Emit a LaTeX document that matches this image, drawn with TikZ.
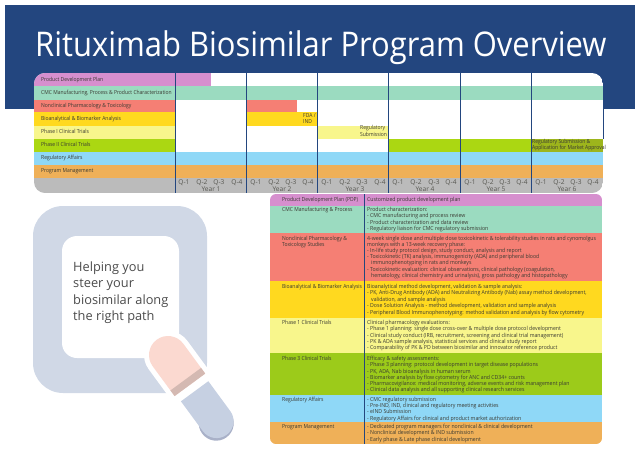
\documentclass[tikz,border=0pt]{standalone}
\usepackage{fontspec}
\setmainfont{Open Sans}
\newfontfamily\cellfont[FakeStretch=0.92]{Open Sans}
\newfontfamily\labelfont[FakeStretch=0.89]{Open Sans}
\newfontfamily\titlefont[FakeStretch=0.91]{Open Sans}
\definecolor{navy}{HTML}{23467F}
\definecolor{cpurple}{HTML}{D68FCE}
\definecolor{cgreen}{HTML}{9BDBC0}
\definecolor{cred}{HTML}{F57F74}
\definecolor{cyellow}{HTML}{FFD91F}
\definecolor{clight}{HTML}{F8F68C}
\definecolor{clime}{HTML}{ABD712}
\definecolor{cdlime}{HTML}{9DB51C}
\definecolor{clime2}{HTML}{9CCB1A}
\definecolor{cblue}{HTML}{8FD8F7}
\definecolor{corange}{HTML}{EFB058}
\definecolor{cgray}{HTML}{BBBBBB}
\definecolor{qblue}{HTML}{D0D8E6}
\definecolor{hblue}{HTML}{C6D0E2}
\definecolor{hshadow}{HTML}{A9B1C8}
\definecolor{pinkc}{HTML}{FBD9D0}
\definecolor{pinkd}{HTML}{D4B9B2}
\definecolor{ink}{HTML}{3A3A32}
\tikzset{
  tline/.style={anchor=base west,inner sep=0pt,text=ink,font=\cellfont\fontsize{5.6}{6}\selectfont},
  lline/.style={anchor=base west,inner sep=0pt,text=ink,font=\labelfont\fontsize{5.6}{6}\selectfont},
  qlabel/.style={anchor=base,inner sep=0pt,text=ink!85,font=\fontsize{6.6}{7}\selectfont},
  helptext/.style={anchor=base west,inner sep=0pt,text=black!70,font=\fontsize{12.8}{16}\selectfont},
  vrule/.style={draw=navy,line width=0.7pt},
}
\newcounter{tl}
\newcommand{\tl}[3]{\stepcounter{tl}\node[tline] (t\arabic{tl}) at (#1,#2+1.9) {#3};}
\newcommand{\lb}[3]{\stepcounter{tl}\node[lline] (t\arabic{tl}) at (#1,#2+1.9) {#3};}
\newcommand{\qyear}[6]{%
  \stepcounter{tl}\node[qlabel] (q\arabic{tl}a) at (#1,184.5) {Q-1};
  \node[qlabel] (q\arabic{tl}b) at (#2,184.5) {Q-2};
  \node[qlabel] (q\arabic{tl}c) at (#3,184.5) {Q-3};
  \node[qlabel] (q\arabic{tl}d) at (#4,184.5) {Q-4};
  \node[qlabel] (q\arabic{tl}e) at (#5,191) {#6};}
\begin{document}
\begin{tikzpicture}[x=1pt,y=-1pt]
\useasboundingbox (0,0) rectangle (638,456);
% banner
\fill[navy] (4.5,4.5) rectangle (635,109);
\node[anchor=base west,inner sep=0pt,text=white,font=\titlefont\fontsize{34}{40}\selectfont] (title) at (35,56) {Rituximab Biosimilar Program Overview};
% gantt panel
\begin{scope}
\clip[rounded corners=11pt] (34,73) rectangle (603,193);
\fill[white] (34,73) rectangle (603,193);
\fill[cpurple] (34,73) rectangle (211,86.3);
\fill[cgreen] (34,86.3) rectangle (603,99.5);
\fill[cred] (34,99.5) rectangle (175.5,112);
\fill[cred] (246.5,99.5) rectangle (297,112);
\fill[cyellow] (34,112) rectangle (175.5,125.5);
\fill[cyellow] (246.5,112) rectangle (317.5,125.5);
\fill[clight] (34,125.5) rectangle (175.5,138.5);
\fill[clight] (317.5,125.5) rectangle (388,138.5);
\fill[clime] (34,138.5) rectangle (175.5,151.5);
\fill[clime] (388,138.5) rectangle (531.5,151.5);
\fill[cdlime] (531.5,138.5) rectangle (603,151.5);
\fill[cblue] (34,151.5) rectangle (603,165);
\fill[corange] (34,165) rectangle (603,178);
\fill[cgray] (34,178) rectangle (603,193);
\end{scope}
\foreach \x in {175.5,246.5,317.5,388,460,531.5} \draw[vrule] (\x,73) -- (\x,193);
\draw[vrule] (603,109) -- (603,138.5);
\lb{41}{80}{Product Development Plan}
\lb{41}{93}{CMC Manufacturing, Process \& Product Characterization}
\lb{41}{106}{Nonclinical Pharmacology \& Toxicology}
\lb{41}{119}{Bioanalytical \& Biomarker Analysis}
\lb{41}{132}{Phase I Clinical Trials}
\lb{41}{145}{Phase II Clinical Trials}
\lb{41}{158}{Regulatory Affairs}
\lb{41}{171}{Program Management}
\lb{303}{116}{FDA /}
\lb{303}{122}{IND}
\lb{360}{128}{Regulatory}
\lb{360}{135}{Submission}
\lb{532}{142}{Regulatory Submission \&}
\lb{532}{148}{Application for Market Approval}
\qyear{184}{202}{219}{237}{211}{Year 1}
\qyear{256}{274}{291}{308}{282}{Year 2}
\qyear{327}{345}{362}{380}{355}{Year 3}
\qyear{398}{416}{434}{451}{425}{Year 4}
\qyear{470}{488}{505}{522}{496}{Year 5}
\qyear{541}{559}{576}{593}{567}{Year 6}
% Q shape
\fill[qblue,rounded corners=30pt] (33,206) rectangle (207,393);
\fill[white,rounded corners=15pt] (62,236) rectangle (179,358);
\begin{scope}[shift={(168,355)},rotate=-53.7]
\fill[white] (0,24) arc[start angle=90,end angle=270,radius=24] -- (50,-24) -- (50,24) -- cycle;
\fill[hshadow] (83.5,1.5) circle[radius=17.5];
\fill[hblue] (45,17) -- (82,17) arc[start angle=90,end angle=-90,radius=17] -- (45,-17) -- cycle;
\fill[pinkc] (0,19) arc[start angle=90,end angle=270,radius=19] -- (37,-19) -- (37,19) -- cycle;
\fill[pinkd] (30,-19) rectangle (37,19);
\end{scope}
\node[helptext] (h1) at (73,271) {Helping you};
\node[helptext] (h2) at (73,287.3) {steer your};
\node[helptext] (h3) at (73,304) {biosimilar along};
\node[helptext] (h4) at (73,320) {the right path};
% lower table
\begin{scope}
\clip[rounded corners=6pt] (270,194) rectangle (602,444);
\fill[cpurple] (270,194) rectangle (602,205.7);
\fill[cgreen] (270,205.7) rectangle (602,233);
\fill[cred] (270,233) rectangle (602,281);
\fill[cyellow] (270,281) rectangle (602,317.5);
\fill[clight] (270,317.5) rectangle (602,353);
\fill[clime2] (270,353) rectangle (602,395);
\fill[cblue] (270,395) rectangle (602,422);
\fill[corange] (270,422) rectangle (602,444);
\end{scope}
\draw[vrule] (364.5,194) -- (364.5,444);
\lb{282}{200}{Product Development Plan (PDP)}
\tl{367}{200}{Customized product development plan}
\lb{282}{209.5}{CMC Manufacturing \& Process}
\tl{367}{209.5}{Product characterization:}
\tl{367}{216}{- CMC manufacturing and process review}
\tl{367}{222.7}{- Product characterization and data review}
\tl{367}{229}{- Regulatory liaison for CMC regulatory submission}
\lb{282}{238.3}{Nonclinical Pharmacology \&}
\lb{282}{244.3}{Toxicology Studies}
\tl{367}{238.3}{4-week single dose and multiple dose toxicokinetic \& tolerability studies in rats and cynomolgus}
\tl{367}{244.3}{monkeys with a 13-week recovery phase:}
\tl{367}{251}{- In-life study protocol design, study conduct, analysis and report}
\tl{367}{257}{- Toxicokinetic (TK) analysis, immunogenicity (ADA) and peripheral blood}
\tl{371}{263}{immunophenotyping in rats and monkeys}
\tl{367}{269.3}{- Toxicokinetic evaluation: clinical observations, clinical pathology (coagulation,}
\tl{371}{276}{hematology, clinical chemistry and urinalysis), gross pathology and histopathology}
\lb{282}{287}{Bioanalytical \& Biomarker Analysis}
\tl{367}{287}{Bioanalytical method development, validation \& sample analysis:}
\tl{367}{293}{- PK, Anti-Drug Antibody (ADA) and Neutralizing Antibody (Nab) assay method development,}
\tl{371}{299.3}{validation, and sample analysis}
\tl{367}{306}{- Dose Solution Analysis - method development, validation and sample analysis}
\tl{367}{312.3}{- Peripheral Blood Immunophenotyping: method validation and analysis by flow cytometry}
\lb{282}{323}{Phase 1 Clinical Trials}
\tl{367}{323}{Clinical pharmacology evaluations:}
\tl{367}{329}{- Phase 1 planning: single dose cross-over \& multiple dose protocol development}
\tl{367}{335.3}{- Clinical study conduct (IRB, recruitment, screening and clinical trial management)}
\tl{367}{342}{- PK \& ADA sample analysis, statistical services and clinical study report}
\tl{367}{348}{- Comparability of PK \& PD between biosimilar and innovator reference product}
\lb{282}{359}{Phase 3 Clinical Trials}
\tl{367}{359}{Efficacy \& safety assessments:}
\tl{367}{365}{- Phase 3 planning: protocol development in target disease populations}
\tl{367}{372}{- PK, ADA, Nab bioanalysis in human serum}
\tl{367}{378}{- Biomarker analysis by flow cytometry for ANC and CD34+ counts}
\tl{367}{384}{- Pharmacovigilance: medical monitoring, adverse events and risk management plan}
\tl{367}{390}{- Clinical data analysis and all supporting clinical research services}
\lb{282}{400}{Regulatory Affairs}
\tl{367}{400}{- CMC regulatory submission}
\tl{367}{406}{- Pre-IND, IND, clinical and regulatory meeting activities}
\tl{367}{412}{- eIND Submission}
\tl{367}{419}{- Regulatory Affairs for clinical and product market authorization}
\lb{282}{427}{Program Management}
\tl{367}{427}{- Dedicated program managers for nonclinical \& clinical development}
\tl{367}{433}{- Nonclinical development \& IND submission}
\tl{367}{440}{- Early phase \& Late phase clinical development}
\end{tikzpicture}
\end{document}
